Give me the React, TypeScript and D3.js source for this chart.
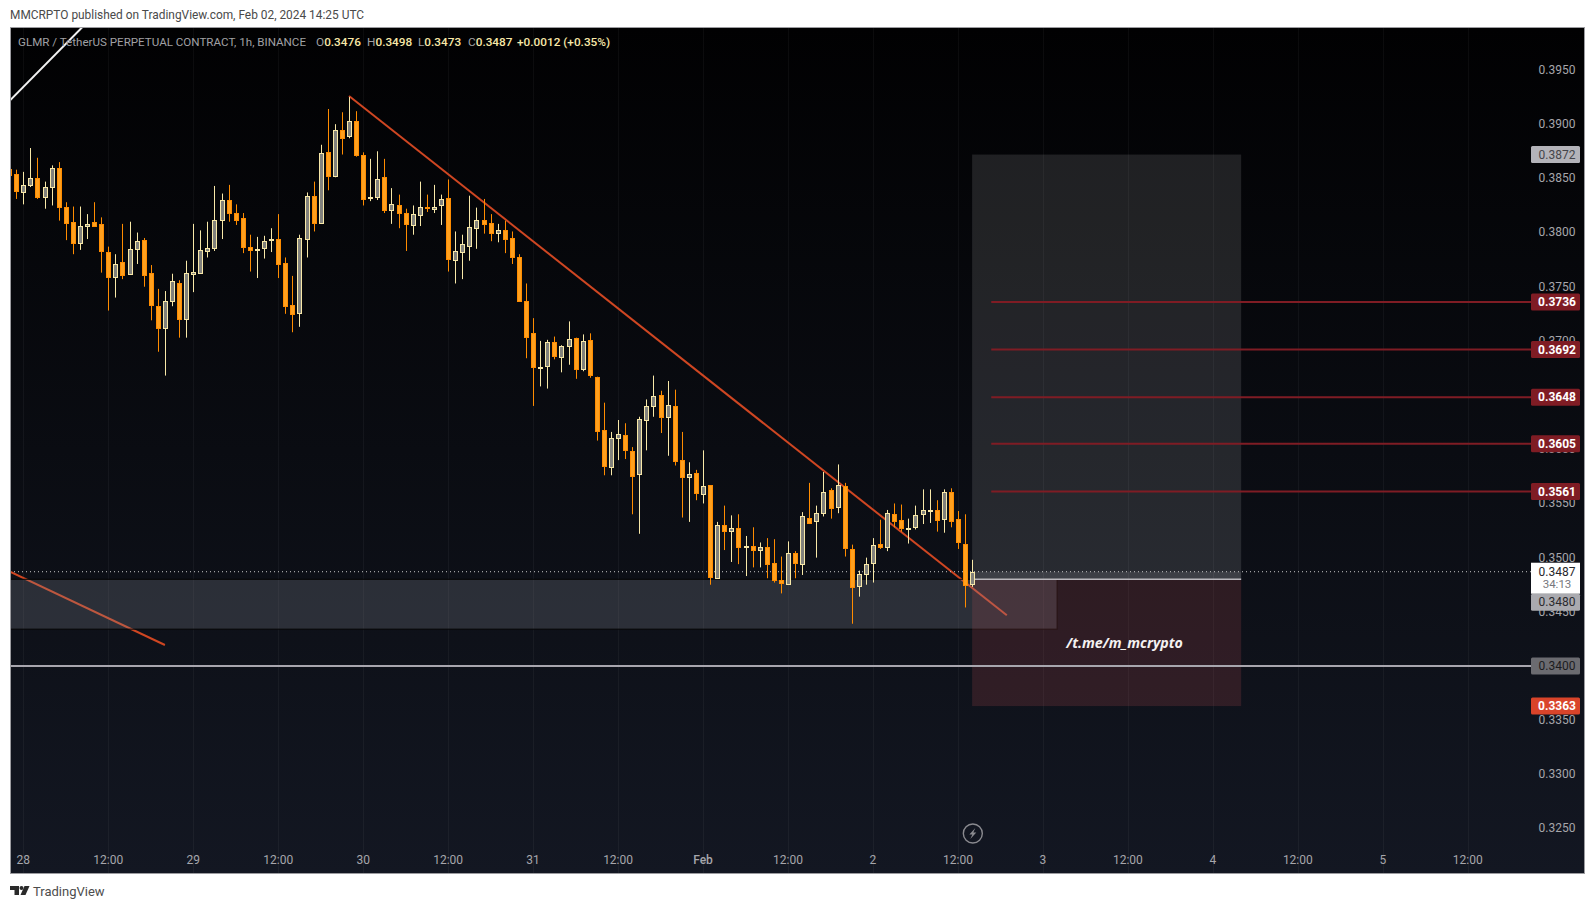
import React from "react"
import * as d3 from "d3"

// GLMR/USDT 1h, Feb 02 2024. First candle is 2h before Jan 28 00:00. Prices in ticks of 0.0001
const tick = 0.0001
const firstHour = -2

const opens = [3859,3854,3837,3844,3850,3833,3842,3860,3824,3810,3790,3806,3810,3808,3782,3759,3773,3762,3785,3793,3763,3732,3712,3737,3753,3720,3762,3763,3783,3786,3812,3830,3818,3813,3787,3785,3786,3793,3794,3772,3733,3726,3794,3834,3809,3874,3852,3895,3889,3903,
  3872,3832,3833,3851,3821,3825,3818,3807,3816,3824,3822,3825,3832,3775,3782,3788,3804,3812,3809,3800,3802,3795,3777,3737,3707,3676,3677,3699,3685,3695,3703,3674,3701,3667,3618,3584,3610,3613,3598,3577,3627,3640,3650,3630,3640,3590,3574,3578,3559,3567,3481,3530,3525,3527,3511,3511,3507,3510,3495,3479,3476,3504,3494,3537,3534,3541,3562,3547,3566,3508,3474,3485,3495,3513,3510,3540,3535,3527,3528,3540,3543,3544,3536,3561,3536,3513,3476]
const highs = [3859,3858,3856,3878,3869,3847,3862,3865,3828,3824,3824,3817,3828,3814,3787,3780,3808,3810,3800,3795,3770,3748,3746,3762,3756,3774,3808,3802,3810,3843,3836,3844,3826,3818,3798,3796,3797,3804,3817,3777,3760,3798,3837,3847,3881,3914,3900,3911,3925,3912,
  3874,3868,3875,3868,3841,3835,3822,3825,3847,3835,3844,3835,3849,3801,3798,3834,3823,3831,3817,3808,3811,3801,3780,3753,3721,3700,3701,3704,3696,3718,3703,3706,3707,3667,3643,3616,3627,3624,3602,3630,3646,3668,3654,3663,3655,3616,3588,3581,3599,3567,3533,3548,3539,3540,3520,3528,3514,3518,3517,3501,3515,3506,3542,3569,3548,3579,3564,3586,3569,3512,3488,3500,3518,3535,3544,3550,3549,3536,3548,3563,3563,3553,3563,3564,3543,3540,3498]
const lows = [3853,3831,3826,3842,3831,3822,3825,3811,3793,3780,3784,3794,3806,3763,3728,3740,3757,3762,3771,3750,3719,3690,3668,3732,3703,3703,3745,3762,3777,3783,3794,3810,3807,3781,3764,3758,3776,3782,3758,3725,3708,3713,3777,3801,3809,3839,3851,3872,3887,3870,
  3825,3829,3830,3818,3808,3804,3783,3798,3806,3819,3818,3807,3764,3753,3757,3774,3785,3799,3792,3791,3781,3771,3736,3684,3640,3658,3656,3683,3671,3678,3665,3672,3666,3608,3576,3576,3590,3591,3540,3522,3599,3630,3615,3594,3585,3537,3533,3553,3550,3475,3481,3507,3496,3494,3483,3491,3491,3481,3477,3467,3476,3481,3484,3531,3500,3538,3536,3541,3501,3439,3464,3475,3477,3508,3506,3528,3524,3513,3526,3531,3532,3524,3523,3528,3508,3454,3473]
const closes = [3853,3838,3844,3850,3833,3842,3860,3824,3809,3790,3806,3808,3806,3783,3759,3771,3761,3785,3792,3761,3733,3712,3737,3755,3720,3763,3764,3784,3786,3812,3830,3818,3812,3787,3784,3785,3792,3794,3771,3732,3725,3795,3834,3809,3873,3852,3895,3887,3903,3872,
  3831,3833,3849,3821,3826,3818,3808,3817,3824,3823,3824,3831,3776,3783,3789,3805,3812,3808,3800,3802,3794,3777,3737,3704,3676,3676,3699,3686,3695,3702,3674,3700,3669,3617,3585,3610,3614,3599,3575,3628,3640,3649,3630,3641,3589,3574,3577,3560,3566,3482,3530,3525,3527,3510,3511,3507,3510,3494,3479,3477,3504,3495,3538,3532,3541,3561,3546,3567,3509,3473,3485,3494,3512,3510,3541,3534,3527,3527,3539,3544,3544,3535,3561,3534,3514,3475,3487]

const priceTicks = d3.range(0.325, 0.3951, 0.005)
const timeTicks = [0,12,24,36,48,60,72,84,96,108,120,132,144,156,168,180,192,204]
const timeLabels = ["28","12:00","29","12:00","30","12:00","31","12:00","Feb","12:00","2","12:00","3","12:00","4","12:00","5","12:00"]

const targetPrices = [0.3736, 0.3692, 0.3648, 0.3605, 0.3561]
const lastPrice = 0.3487
const entryPrice = 0.348
const stopPrice = 0.3363
const takeProfit = 0.3872
const supportPrice = 0.34
const zoneTop = 0.348
const zoneBottom = 0.3434

// hours since Jan 28, price
const mainTrend = [[46, 0.3926], [138.9, 0.34468]]
const oldTrend = [[-1.88, 0.3487], [20, 0.34194]]
const whiteTrend = [[-1.88, 0.3922], [8.33, 0.39895]]
const positionStart = 134
const positionEnd = 172
const targetStart = 136.7
const zoneEnd = 146

const upFill = "#81817c"
const upLine = "#f8e8a8"
const downFill = "#ffa01e"
const downLine = "#ff8c00"
const redLabel = "#7f1c24"
const trendRed = "#cf4622"
const font = "Roboto, sans-serif"

const x = d3.scaleLinear().domain([0, 192]).range([23.3, 1382.8])
const y = d3.scaleLinear().domain([0.34, 0.395]).range([666, 70])
const lineGen = d3.line<number[]>().x(d => x(d[0])).y(d => y(d[1]))

function PriceBox({ price, fill, color, bold, dy = 0 }: any) {
  const cy = y(price) + dy
  return (
    <g>
      <rect x={1531} y={cy - 8.5} width={49} height={17} rx={1.5} fill={fill} />
      <text x={1557} y={cy + 4.1} textAnchor="middle" fontSize={12} fontWeight={bold ? 700 : 400} fill={color}>
        {price.toFixed(4)}
      </text>
    </g>
  )
}

export default function App() {
  const candles = opens.map((o, i) => ({
    hour: i + firstHour, o: o * tick, h: highs[i] * tick, l: lows[i] * tick, c: closes[i] * tick,
  }))
  const zoneX = x(zoneEnd)
  const posX = x(positionStart)
  const posW = x(positionEnd) - posX

  return (
    <svg width={1595} height={909} style={{ position: "absolute", left: 0, top: 0, background: "#fff", fontFamily: font }}>
      <defs>
        <linearGradient id="bg" x1="0" y1="0" x2="0" y2="1">
          <stop offset="0" stopColor="#010102" />
          <stop offset="1" stopColor="#131722" />
        </linearGradient>
        <clipPath id="pane"><rect x={11} y={28} width={1573} height={845} /></clipPath>
      </defs>

      <text x={10} y={19} fontSize={11.9} fill="#4a4a4a">MMCRPTO published on TradingView.com, Feb 02, 2024 14:25 UTC</text>

      <rect x={10.5} y={27.5} width={1574} height={846} fill="url(#bg)" stroke="#9c9ca0" />

      <g clipPath="url(#pane)">
        {timeTicks.map(t => (
          <line key={t} x1={Math.round(x(t)) + 0.5} x2={Math.round(x(t)) + 0.5} y1={28} y2={873} stroke="#fff" strokeOpacity={0.045} />
        ))}

        <path d={lineGen(whiteTrend) as string} stroke="#f2f2f2" strokeWidth={2} fill="none" />
        <path d={lineGen(oldTrend) as string} stroke={trendRed} strokeWidth={2} fill="none" />
        <path d={lineGen(mainTrend) as string} stroke={trendRed} strokeWidth={2} fill="none" />

        <rect x={0} y={y(zoneTop)} width={zoneX} height={y(zoneBottom) - y(zoneTop)} fill="rgb(136,138,152)" fillOpacity={0.25} stroke="#050505" />

        <rect x={posX} y={y(takeProfit)} width={posW} height={y(entryPrice) - y(takeProfit)} fill="#fff" fillOpacity={0.115} />
        <rect x={posX} y={y(lastPrice)} width={posW} height={y(entryPrice) - y(lastPrice)} fill="#fff" fillOpacity={0.1} />
        <rect x={posX} y={y(entryPrice)} width={posW} height={y(stopPrice) - y(entryPrice)} fill="rgb(190,78,83)" fillOpacity={0.19} />
        <line x1={posX} x2={posX + posW} y1={y(entryPrice)} y2={y(entryPrice)} stroke="#b9b7bc" strokeWidth={1.5} />

        <line x1={10} x2={1531} y1={y(lastPrice)} y2={y(lastPrice)} stroke="#c8c8c8" strokeDasharray="1 3" />
        <line x1={10} x2={1531} y1={y(supportPrice)} y2={y(supportPrice)} stroke="#a8a6ae" strokeWidth={2} />
        {targetPrices.map(p => (
          <line key={p} x1={x(targetStart)} x2={1531} y1={y(p)} y2={y(p)} stroke={redLabel} strokeWidth={2} />
        ))}

        {candles.map(d => {
          const up = d.c >= d.o
          const cx = Math.round(x(d.hour))
          const top = Math.round(y(Math.max(d.o, d.c)))
          const bottom = Math.round(y(Math.min(d.o, d.c)))
          return (
            <g key={d.hour}>
              <line x1={cx + 0.5} x2={cx + 0.5} y1={y(d.h)} y2={y(d.l)} stroke={up ? upLine : downLine} />
              <rect x={cx - 1.5} y={top + 0.5} width={4} height={Math.max(bottom - top, 1)} fill={up ? upFill : downFill} stroke={up ? upLine : downLine} />
            </g>
          )
        })}
      </g>

      <text x={1124.5} y={648} textAnchor="middle" fontSize={14.2} fontWeight={700} fontStyle="italic" fill="#f4f1f1" fontFamily="'Open Sans', sans-serif">/t.me/m_mcrypto</text>

      <text x={18} y={46} fontSize={11.6} fill="#a0a0a4">GLMR / TetherUS PERPETUAL CONTRACT, 1h, BINANCE</text>
      {[["O", "0.3476", 316], ["H", "0.3498", 367], ["L", "0.3473", 418], ["C", "0.3487", 468]].map(([k, v, px]) => (
        <text key={k as string} x={px as number} y={46} fontSize={11.8}>
          <tspan fill="#a0a0a4">{k}</tspan><tspan fill="#f8e8a8" fontWeight={500}>{v}</tspan>
        </text>
      ))}
      <text x={517} y={46} fontSize={11.8} fill="#f8e8a8" fontWeight={500}>+0.0012 (+0.35%)</text>

      {priceTicks.map(p => (
        <text key={p} x={1557} y={y(p) + 3.9} textAnchor="middle" fontSize={12} fill="#a6a6ab">{p.toFixed(4)}</text>
      ))}
      {timeTicks.map((t, i) => (
        <text key={t} x={x(t)} y={864} textAnchor="middle" fontSize={12} fontWeight={timeLabels[i] === "Feb" ? 500 : 400} fill="#a6a6ab">{timeLabels[i]}</text>
      ))}

      <PriceBox price={takeProfit} fill="#b3b3b9" color="#45454a" />
      {targetPrices.map(p => <PriceBox key={p} price={p} fill={redLabel} color="#fff" bold />)}
      <PriceBox price={entryPrice} fill="#aaaaaf" color="#2a2a2e" dy={23} />
      <PriceBox price={supportPrice} fill="#6b6b70" color="#1c1c20" />
      <PriceBox price={stopPrice} fill="#d9442a" color="#fff" bold />

      <rect x={1531} y={y(lastPrice) - 9} width={49} height={31} fill="#fff" />
      <text x={1557} y={y(lastPrice) + 4.1} textAnchor="middle" fontSize={12} fill="#26262a">{lastPrice.toFixed(4)}</text>
      <text x={1557} y={y(lastPrice) + 16} textAnchor="middle" fontSize={11.5} fill="#77777c">34:13</text>

      <g transform={`translate(${x(134.1)},833.5)`}>
        <circle r={9.5} fill="none" stroke="#8a8a8f" strokeWidth={1.4} />
        <path d="M2.5 -5.5 L-3.5 1 L-0.5 1 L-2.5 5.5 L3.5 -1 L0.5 -1 Z" fill="#8a8a8f" />
      </g>

      <g fill="#2a2a2a">
        <path d="M10 886 H19 V895 H14.5 V890 H10 Z" />
        <circle cx={21.5} cy={888} r={2} />
        <path d="M24.5 886 H29.5 L25.5 895 H20.5 Z" />
      </g>
      <text x={33} y={896} fontSize={13} fill="#4d4d4d">TradingView</text>
    </svg>
  )
}
